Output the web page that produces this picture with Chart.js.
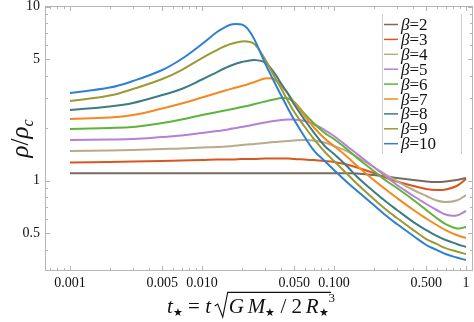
<!DOCTYPE html>
<html>
<head>
<meta charset="utf-8">
<script src="https://cdn.jsdelivr.net/npm/chart.js@4.4.1/dist/chart.umd.min.js"></script>
<style>
  html, body { margin: 0; padding: 0; background: #fff; }
  #wrap { width: 474px; height: 322px; }
</style>
</head>
<body>
<div id="wrap"><canvas id="chart" width="474" height="322"></canvas></div>
<script>
// dimensionless time t_star, shared by all curves
const tStar = [0.001, 0.002, 0.003, 0.005, 0.007, 0.01, 0.013, 0.015, 0.017, 0.02, 0.022, 0.025, 0.03, 0.035,
               0.04, 0.045, 0.05, 0.06, 0.07, 0.085, 0.1, 0.125, 0.15, 0.2, 0.25, 0.3, 0.4, 0.5, 0.6, 0.7, 0.85, 1];

// rho / rho_c for each beta
const rhoBeta2  = [1.10, 1.10, 1.10, 1.10, 1.10, 1.10, 1.10, 1.10, 1.10, 1.10, 1.10, 1.10, 1.10, 1.10,
                   1.10, 1.10, 1.10, 1.10, 1.10, 1.10, 1.10, 1.10, 1.097, 1.075, 1.054, 1.034, 1.007, 0.987, 0.980, 0.987, 1.007, 1.034];
const rhoBeta3  = [1.269, 1.277, 1.286, 1.294, 1.303, 1.311, 1.320, 1.320, 1.320, 1.329, 1.329, 1.329, 1.338, 1.338,
                   1.338, 1.338, 1.329, 1.320, 1.311, 1.294, 1.277, 1.236, 1.188, 1.104, 1.034, 0.987, 0.930, 0.894, 0.882, 0.888, 0.930, 1.020];
const rhoBeta4  = [1.477, 1.487, 1.497, 1.517, 1.527, 1.547, 1.557, 1.568, 1.579, 1.600, 1.610, 1.621, 1.642, 1.664,
                   1.675, 1.686, 1.698, 1.709, 1.698, 1.653, 1.579, 1.477, 1.365, 1.196, 1.075, 0.993, 0.882, 0.815, 0.767, 0.752, 0.767, 0.825];
const rhoBeta5  = [1.709, 1.720, 1.732, 1.778, 1.814, 1.875, 1.925, 1.951, 1.990, 2.030, 2.057, 2.098, 2.154, 2.198,
                   2.227, 2.241, 2.241, 2.198, 2.112, 1.951, 1.802, 1.579, 1.420, 1.196, 1.047, 0.942, 0.815, 0.733, 0.677, 0.638, 0.629, 0.668];
const rhoBeta6  = [1.977, 2.003, 2.030, 2.141, 2.241, 2.379, 2.476, 2.525, 2.576, 2.645, 2.680, 2.752, 2.845, 2.921,
                   2.980, 2.960, 2.826, 2.411, 2.141, 1.875, 1.732, 1.517, 1.347, 1.134, 0.993, 0.906, 0.773, 0.677, 0.609, 0.562, 0.530, 0.540];
const rhoBeta7  = [2.256, 2.302, 2.379, 2.593, 2.770, 2.999, 3.184, 3.290, 3.379, 3.493, 3.563, 3.683, 3.857, 3.831,
                   3.493, 3.141, 2.807, 2.348, 2.030, 1.743, 1.579, 1.374, 1.212, 1.007, 0.882, 0.793, 0.677, 0.605, 0.555, 0.519, 0.486, 0.467];
const rhoBeta8  = [2.542, 2.663, 2.789, 3.099, 3.357, 3.806, 4.203, 4.431, 4.611, 4.798, 4.862, 4.927, 4.767, 4.203,
                   3.585, 3.141, 2.734, 2.227, 1.899, 1.579, 1.420, 1.212, 1.047, 0.865, 0.752, 0.677, 0.577, 0.519, 0.480, 0.455, 0.432, 0.415];
const rhoBeta9  = [2.863, 3.079, 3.357, 3.831, 4.316, 5.058, 5.623, 5.929, 6.130, 6.294, 6.294, 6.088, 4.992, 4.012,
                   3.357, 2.845, 2.476, 2.038, 1.741, 1.464, 1.294, 1.097, 0.955, 0.783, 0.677, 0.609, 0.519, 0.461, 0.432, 0.409, 0.391, 0.378];
const rhoBeta10 = [3.184, 3.423, 3.731, 4.316, 4.992, 6.088, 7.135, 7.624, 7.901, 7.880, 7.522, 6.450, 4.734, 3.731,
                   3.059, 2.576, 2.227, 1.778, 1.497, 1.294, 1.149, 0.980, 0.870, 0.723, 0.625, 0.562, 0.480, 0.426, 0.399, 0.378, 0.361, 0.349];

const betas = [2, 3, 4, 5, 6, 7, 8, 9, 10];
const curves = [rhoBeta2, rhoBeta3, rhoBeta4, rhoBeta5, rhoBeta6, rhoBeta7, rhoBeta8, rhoBeta9, rhoBeta10];
const lineColors = ['#776b5f', '#d8561f', '#bba98c', '#b77fd6', '#5db43c', '#f5891e', '#3d7b85', '#9b9a33', '#2f80d2'];

// axis ranges and tick labels
const xRange = [0.000647, 1.13];
const yRange = [0.302, 10.07];
const xTickValues = [0.001, 0.005, 0.01, 0.05, 0.1, 0.5, 1];
const xTickLabels = ['0.001', '0.005', '0.010', '0.050', '0.100', '0.500', '1'];
const yTickValues = [0.5, 1, 5, 10];
const yTickLabels = ['0.5', '1', '5', '10'];

const SERIF = '"Liberation Serif", "DejaVu Serif", serif';

function isMajor(list, v) {
    return list.some(m => Math.abs(Math.log10(m) - Math.log10(v)) < 1e-6);
}

// 1..9 x 10^n inside [min, max]
function logSteps(min, max) {
    const out = [];
    for (let n = Math.floor(Math.log10(min)); n <= Math.ceil(Math.log10(max)); n++) {
        for (let k = 1; k < 10; k++) {
            const v = Number((k * Math.pow(10, n)).toPrecision(6));
            if (v >= min && v <= max) out.push(v);
        }
    }
    return out;
}

// draw a run of text pieces: [text, style, size factor, dy]
function measureRuns(ctx, runs, size) {
    let w = 0;
    runs.forEach(r => {
        ctx.font = `${r[1]} ${Math.round(size * r[2])}px ${SERIF}`;
        w += ctx.measureText(r[0]).width;
    });
    return w;
}
function drawRuns(ctx, runs, x, y, size) {
    runs.forEach(r => {
        ctx.font = `${r[1]} ${Math.round(size * r[2])}px ${SERIF}`;
        ctx.fillText(r[0], x, y + r[3]);
        x += ctx.measureText(r[0]).width;
    });
    return x;
}

// Frame with inward ticks on all four sides, legend and axis titles
const frameTicks = {
    id: 'frameTicks',
    beforeDatasetsDraw(chart) {
        const { ctx, chartArea: a, scales: { x, y } } = chart;
        ctx.save();
        ctx.strokeStyle = '#b5b5b5';
        ctx.lineWidth = 1;
        ctx.strokeRect(a.left + 0.5, a.top + 0.5, a.right - a.left - 1, a.bottom - a.top - 1);
        ctx.beginPath();
        logSteps(x.min, x.max).forEach(v => {
            const px = Math.round(x.getPixelForValue(v)) + 0.5;
            const len = isMajor(xTickValues, v) ? 5 : 3;
            ctx.moveTo(px, a.bottom); ctx.lineTo(px, a.bottom - len);
            ctx.moveTo(px, a.top); ctx.lineTo(px, a.top + len);
        });
        logSteps(y.min, y.max).forEach(v => {
            const py = Math.round(y.getPixelForValue(v)) + 0.5;
            const len = isMajor(yTickValues, v) ? 5 : 3;
            ctx.moveTo(a.left, py); ctx.lineTo(a.left + len, py);
            ctx.moveTo(a.right, py); ctx.lineTo(a.right - len, py);
        });
        ctx.stroke();
        ctx.restore();
    },
    afterDraw(chart) {
        const { ctx, chartArea: a } = chart;
        ctx.save();
        ctx.fillStyle = '#111';
        ctx.textBaseline = 'alphabetic';

        // legend box (left and right rules only)
        ctx.strokeStyle = '#cfcfcf';
        ctx.lineWidth = 1;
        ctx.beginPath();
        ctx.moveTo(382.5, 14); ctx.lineTo(382.5, 154);
        ctx.moveTo(461.5, 14); ctx.lineTo(461.5, 154);
        ctx.stroke();
        chart.data.datasets.forEach((ds, i) => {
            const cy = 24.5 + i * 14.9;
            ctx.strokeStyle = ds.borderColor;
            ctx.lineWidth = 1.5;
            ctx.beginPath();
            ctx.moveTo(384, cy); ctx.lineTo(398, cy);
            ctx.stroke();
            drawRuns(ctx, [['β', 'italic', 1, 0], ['=' + betas[i], 'normal', 1, 0]], 401, cy + 5.5, 16.5);
        });

        // y title: rho / rho_c
        ctx.save();
        ctx.translate(28, a.top + (a.bottom - a.top) / 2);
        ctx.rotate(-Math.PI / 2);
        const yRuns = [['ρ', 'italic', 1, 0], ['/', 'normal', 1, 0], ['ρ', 'italic', 1, 0], ['c', 'italic', 0.62, 5]];
        const yw = measureRuns(ctx, yRuns, 25);
        drawRuns(ctx, yRuns, -yw / 2, 0, 25);
        ctx.restore();

        // x title: t* = t sqrt(G M* / 2 R*^3)
        const size = 21;
        const base = 313;
        const left = [['t', 'italic', 1, 0], ['★', 'normal', 0.5, 3], [' = ', 'normal', 1, 0], ['t', 'italic', 1, 0], [' ', 'normal', 0.7, 0]];
        const inner = [['G', 'italic', 1, 0], [' ', 'normal', 0.7, 0], ['M', 'italic', 1, 0], ['★', 'normal', 0.5, 3],
                       [' / ', 'normal', 1, 0], ['2', 'normal', 1, 0], [' ', 'normal', 0.7, 0], ['R', 'italic', 1, 0],
                       ['★', 'normal', 0.5, 3], ['3', 'normal', 0.62, -11]];
        const radW = 14;
        const total = measureRuns(ctx, left, size) + radW + measureRuns(ctx, inner, size) + 2;
        let x0 = (a.left + a.right) / 2 - total / 2 - 7;
        x0 = drawRuns(ctx, left, x0, base, size);
        const innerStart = x0 + radW;
        const innerEnd = drawRuns(ctx, inner, innerStart, base, size);
        const top = base - size * 0.98;
        ctx.strokeStyle = '#111';
        ctx.lineWidth = 1.1;
        ctx.beginPath();
        ctx.moveTo(x0, base - 7);
        ctx.lineTo(x0 + 3, base - 9);
        ctx.lineTo(x0 + 8, base + 4);
        ctx.lineTo(x0 + 13, top);
        ctx.lineTo(innerEnd - 4, top);
        ctx.stroke();
        ctx.restore();
    }
};

const datasets = betas.map((b, i) => ({
    label: 'β=' + b,
    data: tStar.map((t, j) => ({ x: t, y: curves[i][j] })),
    borderColor: lineColors[i],
    borderWidth: 2,
    pointRadius: 0,
    fill: false,
    tension: 0.4,
    order: betas.length - i
}));

new Chart(document.getElementById('chart'), {
    type: 'line',
    data: { datasets: datasets },
    options: {
        responsive: false,
        animation: false,
        devicePixelRatio: 1,
        layout: { padding: { top: 6, right: 1, left: 0, bottom: 0 } },
        plugins: { legend: { display: false }, tooltip: { enabled: false } },
        scales: {
            x: {
                type: 'logarithmic',
                min: xRange[0],
                max: xRange[1],
                grid: { display: false, drawTicks: false },
                border: { display: false },
                afterBuildTicks: scale => {
                    // log scale rounds its min, put the exact range back
                    scale.min = xRange[0];
                    scale.max = xRange[1];
                    scale.ticks = xTickValues.map(v => ({ value: v }));
                },
                afterFit: scale => {
                    scale.height = 51;
                    scale.paddingLeft = 0;
                    scale.paddingRight = 0;
                },
                ticks: {
                    autoSkip: false,
                    maxRotation: 0,
                    padding: 4,
                    color: '#111',
                    font: { family: SERIF, size: 14 },
                    callback: (v) => xTickLabels[xTickValues.findIndex(m => Math.abs(m - v) < 1e-9)]
                }
            },
            y: {
                type: 'logarithmic',
                min: yRange[0],
                max: yRange[1],
                grid: { display: false, drawTicks: false },
                border: { display: false },
                afterBuildTicks: scale => {
                    scale.min = yRange[0];
                    scale.max = yRange[1];
                    scale.ticks = yTickValues.map(v => ({ value: v }));
                },
                afterFit: scale => {
                    scale.width = 45;
                    scale.paddingTop = 0;
                    scale.paddingBottom = 0;
                },
                ticks: {
                    autoSkip: false,
                    padding: 5,
                    color: '#111',
                    font: { family: SERIF, size: 14 },
                    callback: (v) => yTickLabels[yTickValues.findIndex(m => Math.abs(m - v) < 1e-9)]
                }
            }
        }
    },
    plugins: [frameTicks]
});
</script>
</body>
</html>
